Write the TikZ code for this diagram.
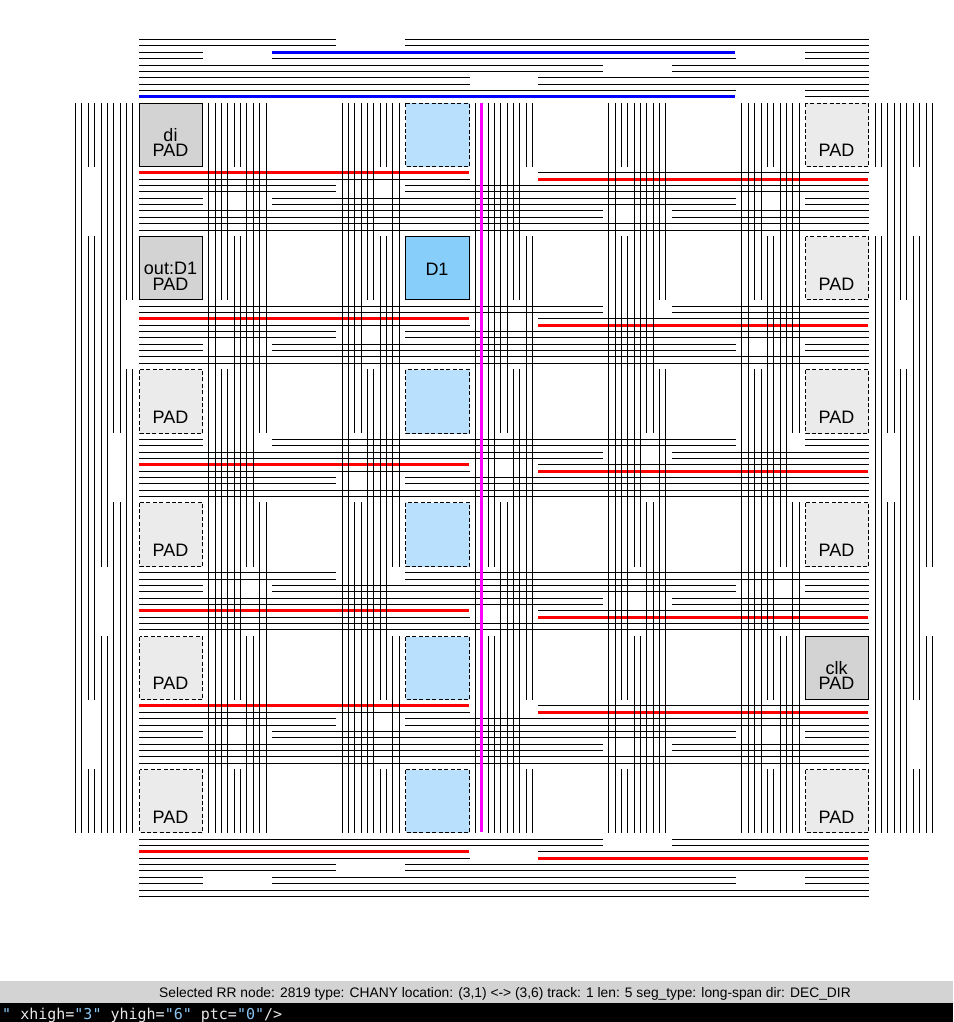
\documentclass[tikz,border=0pt]{standalone}
\usepackage{fontspec}
\setmainfont{Liberation Sans}
\newfontfamily\termfont{DejaVu Sans Mono}
\definecolor{padgray}{HTML}{EBEBEB}
\definecolor{usedgray}{HTML}{D3D3D3}
\definecolor{clbfree}{HTML}{B9E0FD}
\definecolor{clbused}{HTML}{87CEFA}
\definecolor{termblue}{HTML}{8CC4F0}
\definecolor{termtext}{HTML}{E8E8E8}
\definecolor{selpink}{HTML}{FF00FF}
\definecolor{wirered}{HTML}{FF0000}
\definecolor{wireblue}{HTML}{0000FF}
\tikzset{
  wire/.style={draw=black,line width=1pt},
  redwire/.style={draw=wirered,line width=3pt},
  bluewire/.style={draw=wireblue,line width=3pt},
  selwire/.style={draw=selpink,line width=3pt},
  padfree/.style={fill=padgray,draw=black,line width=1pt,dash pattern=on 4pt off 2.4pt},
  padused/.style={fill=usedgray,draw=black,line width=1pt},
  clbempty/.style={fill=clbfree,draw=black,line width=1pt,dash pattern=on 4pt off 2.4pt},
  clbfull/.style={fill=clbused,draw=black,line width=1pt},
  lbl/.style={anchor=base,inner sep=0pt,font=\fontsize{18}{18}\selectfont},
}
% horizontal track pairs, by where they are broken
\newcommand\HA[1]{\foreach \y in {#1}{\draw[wire] (139,\y)--(336,\y) (405,\y)--(869,\y);}}
\newcommand\HB[1]{\foreach \y in {#1}{\draw[wire] (139,\y)--(203,\y) (272,\y)--(736,\y) (805,\y)--(869,\y);}}
\newcommand\HC[1]{\foreach \y in {#1}{\draw[wire] (139,\y)--(603,\y) (672,\y)--(869,\y);}}
\newcommand\HDL[1]{\foreach \y in {#1}{\draw[redwire] (139,\y)--(469,\y); \draw[wire] (538,\y)--(869,\y);}}
\newcommand\HDR[1]{\foreach \y in {#1}{\draw[wire] (139,\y)--(470,\y); \draw[redwire] (538,\y)--(868,\y);}}
\newcommand\HF[1]{\foreach \y in {#1}{\draw[wire] (139,\y)--(869,\y);}}
% vertical track pairs, by where they are broken
\newcommand\VN[1]{\foreach \x in {#1}{\draw[wire] (\x,103)--(\x,833);}}
\newcommand\VZ[1]{\foreach \x in {#1}{\draw[wire] (\x,103)--(\x,167) (\x,236)--(\x,833);}}
\newcommand\VA[1]{\foreach \x in {#1}{\draw[wire] (\x,103)--(\x,300) (\x,369)--(\x,833);}}
\newcommand\VB[1]{\foreach \x in {#1}{\draw[wire] (\x,103)--(\x,433) (\x,502)--(\x,833);}}
\newcommand\VC[1]{\foreach \x in {#1}{\draw[wire] (\x,103)--(\x,567) (\x,636)--(\x,833);}}
\newcommand\VD[1]{\foreach \x in {#1}{\draw[wire] (\x,103)--(\x,167) (\x,236)--(\x,700) (\x,769)--(\x,833);}}
\begin{document}
\begin{tikzpicture}[x=1pt,y=-1pt]
\useasboundingbox (0,0) rectangle (953,1022);
\fill[white] (0,0) rectangle (953,1022);
% channel 0
\HA{39.5,45.5}
\draw[wire] (139,52.5)--(203,52.5) (805,52.5)--(869,52.5);
\draw[bluewire] (272,52.5)--(735,52.5);
\HB{58.5}
\HC{65.5,71.5}
\draw[wire] (139,77.5)--(470,77.5) (538,77.5)--(869,77.5) (139,84.5)--(470,84.5) (538,84.5)--(869,84.5);
\draw[wire] (139,90.5)--(736,90.5) (805,90.5)--(869,90.5) (805,96.5)--(869,96.5);
\draw[bluewire] (139,96.5)--(735,96.5);
% channel 1
\HDL{172.5}\HDR{179.5}\HA{185.5,191.5}\HB{198.5,204.5}\HC{210.5,217.5}\HF{223.5,230.5}
% channel 2
\HC{306.5,312.5}\HDL{318.5}\HDR{325.5}\HA{331.5,337.5}\HB{344.5,350.5}\HF{356.5,363.5}
% channel 3
\HB{439.5,445.5}\HC{452.5,458.5}\HDL{464.5}\HDR{471.5}\HA{477.5,483.5}\HF{490.5,496.5}
% channel 4
\HA{572.5,579.5}\HB{585.5,591.5}\HC{598.5,604.5}\HDL{610.5}\HDR{617.5}\HF{623.5,629.5}
% channel 5
\HDL{705.5}\HDR{712.5}\HA{718.5,725.5}\HB{731.5,737.5}\HC{744.5,750.5}\HF{756.5,763.5}
% channel 6
\HC{839.5,845.5}\HDL{851.5}\HDR{858.5}\HA{864.5,870.5}\HB{877.5,883.5}\HF{890.5,896.5}
% vertical channels
\VN{75.5,81.5}\VD{88.5,94.5}\VC{101.5,107.5}\VB{113.5,120.5}\VA{126.5,132.5}
\VN{208.5,215.5}\VA{221.5,227.5}\VD{234.5,240.5}\VC{246.5,253.5}\VB{259.5,266.5}
\VN{342.5,348.5}\VB{354.5,361.5}\VA{367.5,373.5}\VD{380.5,386.5}\VC{392.5,399.5}
\VN{475.5}\VC{488.5,494.5}\VB{500.5,507.5}\VA{513.5,519.5}\VD{526.5,532.5}
\draw[selwire] (481.5,103)--(481.5,832);
\VN{608.5,615.5}\VD{621.5,627.5}\VC{634.5,640.5}\VB{646.5,653.5}\VA{659.5,665.5}
\VN{741.5,748.5}\VA{754.5,761.5}\VD{767.5,773.5}\VC{780.5,786.5}\VB{792.5,799.5}
\VZ{875.5,881.5}\VB{887.5,894.5}\VA{900.5,906.5}\VD{913.5,919.5}\VC{926.5,932.5}
% tiles
\draw[padused] (139.5,103.5) rectangle (202.5,166.5);
\draw[padused] (139.5,236.5) rectangle (202.5,299.5);
\draw[padfree] (139.5,369.5) rectangle (202.5,433.5);
\draw[padfree] (139.5,502.5) rectangle (202.5,566.5);
\draw[padfree] (139.5,636.5) rectangle (202.5,699.5);
\draw[padfree] (139.5,769.5) rectangle (202.5,832.5);
\draw[clbempty] (405.5,103.5) rectangle (469.5,166.5);
\draw[clbfull] (405.5,236.5) rectangle (469.5,299.5);
\draw[clbempty] (405.5,369.5) rectangle (469.5,433.5);
\draw[clbempty] (405.5,502.5) rectangle (469.5,566.5);
\draw[clbempty] (405.5,636.5) rectangle (469.5,699.5);
\draw[clbempty] (405.5,769.5) rectangle (469.5,832.5);
\draw[padfree] (805.5,103.5) rectangle (868.5,166.5);
\draw[padfree] (805.5,236.5) rectangle (868.5,299.5);
\draw[padfree] (805.5,369.5) rectangle (868.5,433.5);
\draw[padfree] (805.5,502.5) rectangle (868.5,566.5);
\draw[padused] (805.5,636.5) rectangle (868.5,699.5);
\draw[padfree] (805.5,769.5) rectangle (868.5,832.5);
% tile labels
\node[lbl] (ldi) at (170.5,141) {di};
\node[lbl] (lpad0) at (170.5,157) {PAD};
\node[lbl] (lout) at (170.5,274) {out:D1};
\node[lbl] (lpad1) at (170.5,290) {PAD};
\node[lbl] (lpad2) at (170.5,423) {PAD};
\node[lbl] (lpad3) at (170.5,556) {PAD};
\node[lbl] (lpad4) at (170.5,689) {PAD};
\node[lbl] (lpad5) at (170.5,823) {PAD};
\node[lbl] (ld1) at (437,275) {D1};
\node[lbl] (rpad0) at (836.5,157) {PAD};
\node[lbl] (rpad1) at (836.5,290) {PAD};
\node[lbl] (rpad2) at (836.5,423) {PAD};
\node[lbl] (rpad3) at (836.5,556) {PAD};
\node[lbl] (lclk) at (836.5,674) {clk};
\node[lbl] (rpad4) at (836.5,689) {PAD};
\node[lbl] (rpad5) at (836.5,823) {PAD};
% status and terminal bars
\fill[usedgray] (0,981) rectangle (953,1003);
\fill[black] (0,1003) rectangle (953,1022);
\node[anchor=base,inner sep=0pt,font=\fontsize{13.8}{16}\selectfont] (status) at (505,997) {Selected RR node: 2819 type: CHANY location: (3,1) <-> (3,6) track: 1 len: 5 seg\_type: long-span dir: DEC\_DIR};
\node[anchor=base west,inner sep=0pt,text=termtext,font=\termfont\fontsize{15}{16}\selectfont] (term) at (2,1019) {\textcolor{termblue}{"} xhigh=\textcolor{termblue}{"3"} yhigh=\textcolor{termblue}{"6"} ptc=\textcolor{termblue}{"0"}/>};
\end{tikzpicture}
\end{document}
